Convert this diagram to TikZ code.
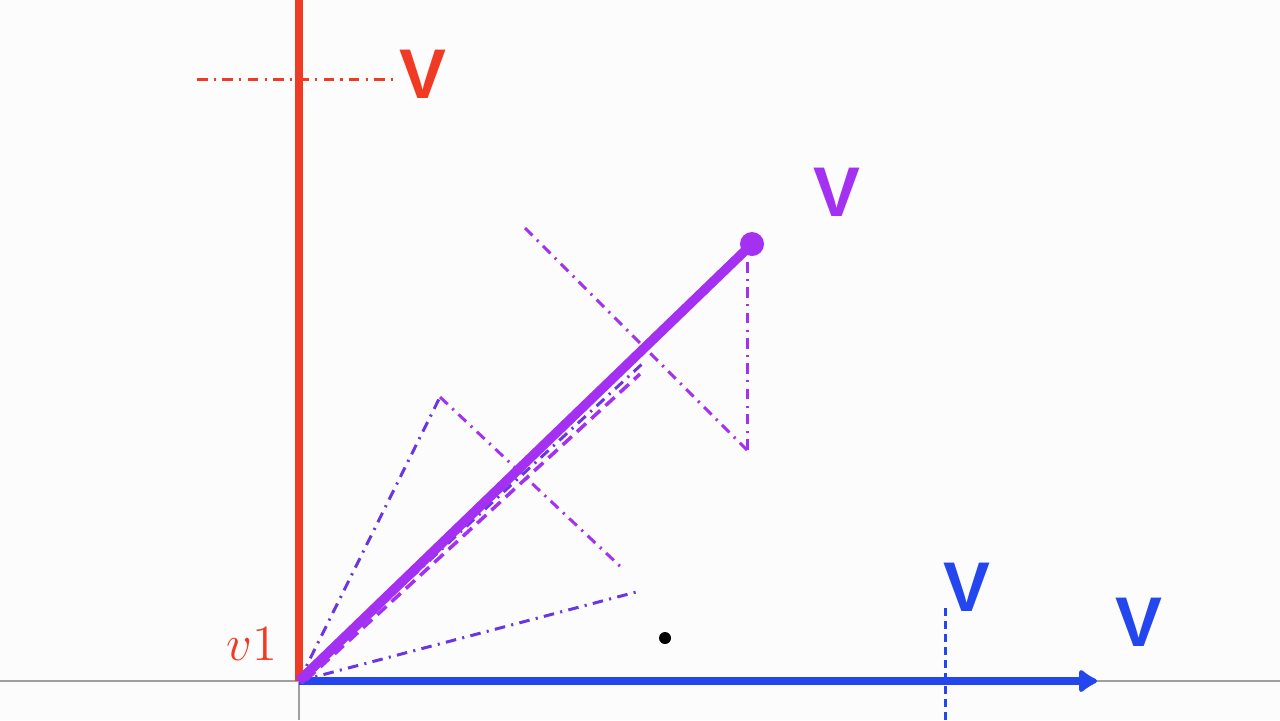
\documentclass[tikz,border=0pt]{standalone}
\usepackage{fontspec}
\newfontfamily\vfont{Liberation Sans}
\usetikzlibrary{arrows.meta}
\definecolor{vred}{HTML}{F03A24}
\definecolor{vblue}{HTML}{2446EE}
\definecolor{vpurple}{HTML}{A431F2}
\definecolor{vviolet}{HTML}{6A36E4}
\tikzset{
  vlabel/.style = {font=\vfont\bfseries\fontsize{20}{20}\selectfont, inner sep=0pt},
  dashdot/.style = {line width=0.85pt, dash pattern=on 3pt off 1.8pt on 0.6pt off 1.8pt},
  axisline/.style = {gray!75, line width=0.6pt},
}
\begin{document}
\begin{tikzpicture}[x=0.01cm, y=-0.01cm]
                \useasboundingbox (0,0) rectangle (1280,720);
                \fill [gray!2]                          (0,0) rectangle (1280,720);

                % points
                \coordinate (O)    at (299,681);
                \coordinate (xend) at (1280,681);
                \coordinate (xbeg) at (0,681);
                \coordinate (ybot) at (299,720);
                \coordinate (ytop) at (299,0);
                \coordinate (btip) at (1097,681);
                \coordinate (ptip) at (752,244);
                \coordinate (pfoot) at (747,450);
                \coordinate (pvtop) at (747,262);
                \coordinate (pperp) at (525,228);
                \coordinate (apex) at (440,397);
                \coordinate (aend) at (622,568);
                \coordinate (cend) at (640,591);
                \coordinate (dstart) at (306,680);
                \coordinate (dend) at (640,374);
                \coordinate (eend) at (642,364);
                \coordinate (rl)   at (197,79);
                \coordinate (rr)   at (393,79);
                \coordinate (bt)   at (945,608);
                \coordinate (bb)   at (945,720);

                % axes
                \draw [axisline]                        (xbeg) -- (xend);
                \draw [axisline]                        (O) -- (ybot);

                % red
                \draw [vred, line width=2pt]            (O) -- (ytop);
                \draw [vred, dashdot]                   (rl) -- (rr);
                \node [vlabel, text=vred]   (vr)  at (423,74)  {V};
                \node [text=vred, font=\fontsize{15}{15}\selectfont] (v1) at (252,644) {$v1$};

                % blue
                \draw [vblue, line width=0.85pt, dash pattern=on 2.3pt off 1.4pt] (bt) -- (bb);
                \draw [vblue, line width=2.1pt, -{Latex[round, length=6pt, width=8pt]}] (O) -- (btip);
                \node [vlabel, text=vblue]  (vb1) at (967,587) {V};
                \node [vlabel, text=vblue]  (vb2) at (1139,622) {V};

                % purple construction
                \draw [vviolet, dashdot]                (O) -- (apex);
                \draw [vpurple, dashdot]                (apex) -- (aend);
                \draw [vviolet, dashdot]                (O) -- (cend);
                \draw [vpurple, dashdot]                (pperp) -- (pfoot);
                \draw [vpurple, dashdot]                (pvtop) -- (pfoot);
                \draw [vviolet, dashdot]                (O) -- (eend);
                \draw [vpurple, line width=1pt, dash pattern=on 3.5pt off 2pt] (dstart) -- (dend);

                % purple vector
                \draw [vpurple, line width=2.7pt]       (O) -- (ptip);
                \fill [vpurple]                         (ptip) circle (12);
                \node [vlabel, text=vpurple] (vp) at (837,192) {V};

                % dot
                \fill [black]                           (665,638) circle (6);
\end{tikzpicture}
\end{document}
